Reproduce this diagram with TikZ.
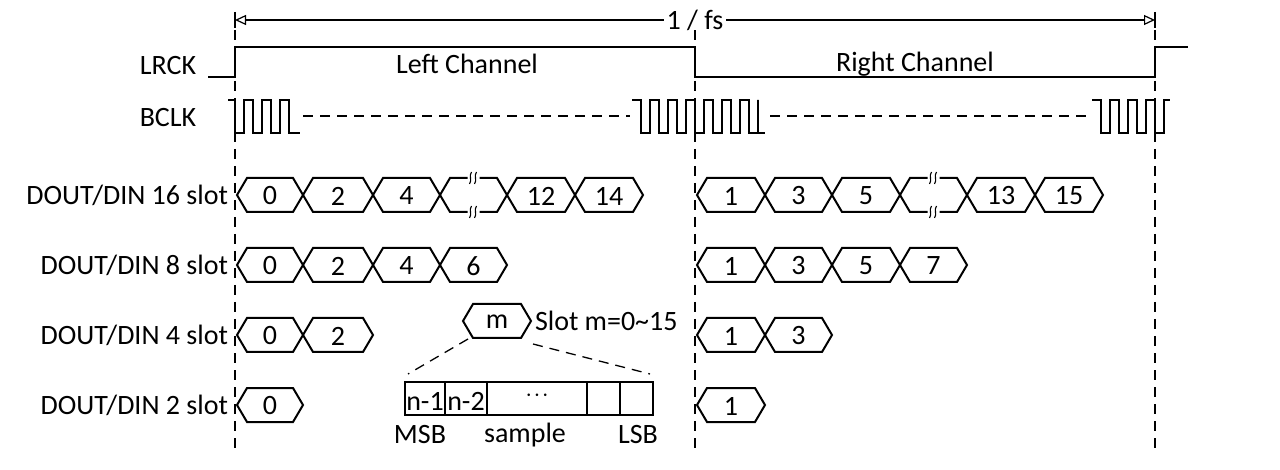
\documentclass[tikz,border=0pt]{standalone}
\usepackage{fontspec}
\setmainfont{Carlito}
\usetikzlibrary{arrows.meta}
\begin{document}
\begin{tikzpicture}[x=1pt,y=-1pt,line width=2pt,
  lbl/.style={font=\fontsize{28}{30}\selectfont,inner sep=0pt},
  dsh/.style={line width=1.3pt,dash pattern=on 10pt off 7pt}]
\useasboundingbox (0,0) rectangle (1280,470);
\newcommand\slt[4]{%
  \draw (#1,#3)--(#1+10,#3-17)--(#2-10,#3-17)--(#2,#3)--(#2-10,#3+17)--(#1+10,#3+17)--cycle;
  \node[lbl] at ({(#1+#2)/2},#3+1) {#4};}
\newcommand\brk[3]{%
  \draw (#1,#3)--(#1+10,#3-17)--({(#1+#2)/2-6},#3-17);
  \draw ({(#1+#2)/2+6},#3-17)--(#2-10,#3-17)--(#2,#3);
  \draw (#1,#3)--(#1+10,#3+17)--({(#1+#2)/2-6},#3+17);
  \draw ({(#1+#2)/2+6},#3+17)--(#2-10,#3+17)--(#2,#3);
  \foreach \yy in {#3-17,#3+17}{
    \foreach \dx in {-3,2}{
      \draw[line width=1.1pt] ({(#1+#2)/2+\dx-1},\yy+6) .. controls ({(#1+#2)/2+\dx+2},\yy+2) and ({(#1+#2)/2+\dx-2},\yy-2) .. ({(#1+#2)/2+\dx+1},\yy-6);}}}
% dashed verticals
\foreach \x in {235,695,1155}{\draw[dsh] (\x,30)--(\x,455);}
% 1/fs arrow
\draw[line width=1.2pt] (235,12)--(235,28) (1155,12)--(1155,28);
\node[lbl,fill=white,inner xsep=2pt] (fs) at (695,20) {1 / fs};
\coordinate (fl) at (235,20); \coordinate (fr) at (1155,20);
\draw[line width=1.2pt,-{Triangle[open,length=11pt,width=10pt]}] (fs)--(fl);
\draw[line width=1.2pt,-{Triangle[open,length=11pt,width=10pt]}] (fs)--(fr);
% LRCK
\node[lbl] (lrck) at (168,66) {LRCK};
\draw (208,77)--(235,77)--(235,47)--(695,47)--(695,77)--(1155,77)--(1155,47)--(1188,47);
\node[lbl] (lc) at (467,64) {Left Channel};
\node[lbl] (rc) at (915,64) {Right Channel};
% BCLK
\node[lbl] (bclk) at (168,118) {BCLK};
\draw (228,100)--(235,100)--(235,133)--(244,133)--(244,100)--(253,100)--(253,133)--(262,133)--(262,100)--(271,100)--(271,133)--(280,133)--(280,100)--(289,100)--(289,133)--(300,133);
\draw[dsh] (303,116)--(630,116);
\draw (632,100) \foreach \k in {0,...,6}{ -- (641+18*\k,100)--(641+18*\k,133)--(650+18*\k,133)--(650+18*\k,100)} -- (758,100)--(758,133)--(765,133);
\draw[dsh] (770,116)--(1090,116);
\draw (1092,100) \foreach \k in {0,...,3}{ -- (1101+18*\k,100)--(1101+18*\k,133)--(1110+18*\k,133)--(1110+18*\k,100)} -- (1170,100);
% rows
\node[lbl,anchor=east] (r16) at (229,195) {DOUT/DIN 16 slot};
\node[lbl,anchor=east] (r8) at (229,265) {DOUT/DIN 8 slot};
\node[lbl,anchor=east] (r4) at (229,335) {DOUT/DIN 4 slot};
\node[lbl,anchor=east] (r2) at (229,405) {DOUT/DIN 2 slot};
% 16 slot
\slt{237}{303}{195}{0}\slt{303}{373}{195}{2}\slt{373}{440}{195}{4}\brk{440}{507}{195}
\slt{507}{575}{195}{12}\slt{575}{643}{195}{14}
\slt{697}{765}{195}{1}\slt{765}{832}{195}{3}\slt{832}{900}{195}{5}\brk{900}{967}{195}
\slt{967}{1035}{195}{13}\slt{1035}{1103}{195}{15}
% 8 slot
\slt{237}{303}{265}{0}\slt{303}{373}{265}{2}\slt{373}{440}{265}{4}\slt{440}{507}{265}{6}
\slt{697}{765}{265}{1}\slt{765}{832}{265}{3}\slt{832}{900}{265}{5}\slt{900}{967}{265}{7}
% 4 slot
\slt{237}{303}{335}{0}\slt{303}{373}{335}{2}
\slt{697}{765}{335}{1}\slt{765}{832}{335}{3}
% 2 slot
\slt{237}{303}{405}{0}
\slt{697}{765}{405}{1}
% m slot
\slt{463}{531}{321}{m}
\node[lbl,anchor=west] (sm) at (534,321) {Slot m=0\textasciitilde 15};
\draw[dsh,line width=1.3pt] (468,339)--(408,374);
\draw[dsh,line width=1.3pt] (533,344)--(650,374);
% sample box
\draw[line width=1.2pt] (405,382) rectangle (653,415);
\foreach \x in {445,487,587,620}{\draw[line width=1.2pt] (\x,382)--(\x,415);}
\node[lbl] (n1) at (425,401) {n-1};
\node[lbl] (n2) at (466,401) {n-2};
\node[lbl] (dots) at (537,396) {\textbf{$\cdot\!\cdot\!\cdot$}};
\node[lbl] (msb) at (420,435) {MSB};
\node[lbl] (smp) at (525,435) {sample};
\node[lbl] (lsb) at (638,435) {LSB};
\end{tikzpicture}
\end{document}
